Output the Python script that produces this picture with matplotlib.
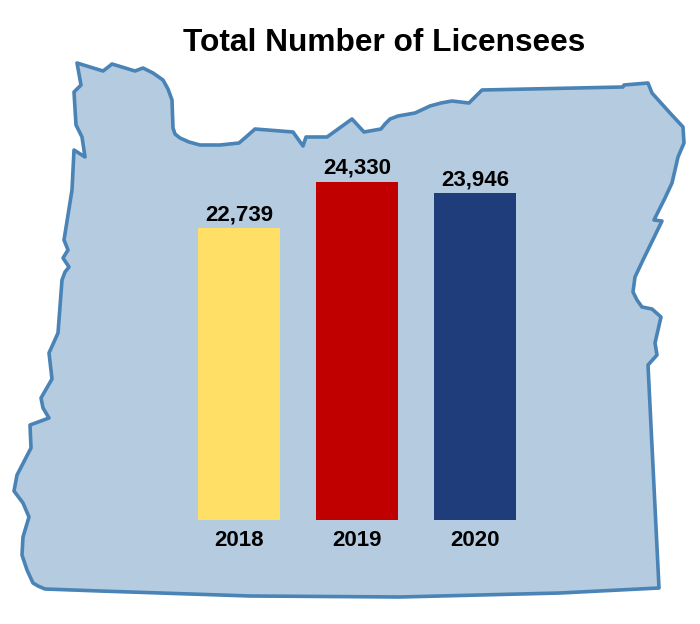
import matplotlib
matplotlib.use("Agg")
import matplotlib.pyplot as plt
from matplotlib.font_manager import FontProperties
from matplotlib.patches import Polygon

years = ["2018", "2019", "2020"]
licensees = [22739, 24330, 23946]
bar_colors = ["#FFDF66", "#C00000", "#1F3D7A"]
title = "Total Number of Licensees"

# Decorative state outline, traced in image pixels
outline_px = [
    (77,63),(103,71),(107,68),(112,64),(135,71),(143,68),(153,73),(163,80),(168,89),(172,100),
    (173,128),(175,134),(180,138),(189,142),(200,145),(220,145),(239,143),(246,137),(255,129),
    (293,132),(303,146),(306,137),(327,137),(352,119),(364,132),(381,129),(385,124),(390,119),
    (398,116),(415,113),(430,106),(441,103),(452,101),(469,103),(482,90),(623,87),(624,85),
    (648,83),(652,93),(670,113),(683,127),(684,143),(678,157),(672,183),(665,198),(654,220),
    (662,221),(643,260),(635,277),(633,292),(637,300),(642,307),(652,309),(661,317),(655,343),
    (657,355),(648,365),(659,588),(560,593),(400,597),(250,596),(100,591),(45,589),(38,586),
    (33,583),(27,570),(22,555),(23,537),(29,517),(23,503),(14,491),(17,475),(31,448),(30,425),
    (49,418),(43,408),(41,398),(52,379),(49,353),(58,333),(62,280),(65,272),(69,267),(63,258),
    (68,250),(64,240),(72,190),(74,150),(85,157),(82,137),(76,125),(74,92),(81,85),
]

W, H = 700, 624
fig = plt.figure(figsize=(W/100, H/100), dpi=100, facecolor="white")

bg = fig.add_axes([0, 0, 1, 1], zorder=0)
bg.set_xlim(0, W)
bg.set_ylim(H, 0)
bg.axis("off")
bg.add_patch(Polygon(outline_px, closed=True, facecolor="#B4CBE0", edgecolor="#4A83B5",
                     linewidth=2.6, joinstyle="round"))

ax = fig.add_axes([180/W, (H-520)/H, 354/W, 400/H], zorder=1)
ax.patch.set_alpha(0)
x = range(len(years))
bars = ax.bar(x, licensees, width=82/118, color=bar_colors)
ax.set_xlim(-0.5, 2.5)
ax.set_ylim(12751, 12751 + 400/0.02921)
ax.set_yticks([])
ax.set_xticks(list(x), years)
ax.tick_params(axis="x", length=0, pad=7)
for s in ax.spines.values():
    s.set_visible(False)
fp = FontProperties(family="Liberation Sans", weight="bold", size=16)
for lab in ax.get_xticklabels():
    lab.set_fontproperties(fp)
ax.bar_label(bars, labels=[f"{v:,}" for v in licensees], padding=2, fontproperties=fp, color="black")

fig.text(384/W, 1-43/H, title, ha="center", va="center", family="Liberation Sans",
         fontweight="bold", fontsize=22.8, color="black")
fig.savefig("out.png", dpi=100)
